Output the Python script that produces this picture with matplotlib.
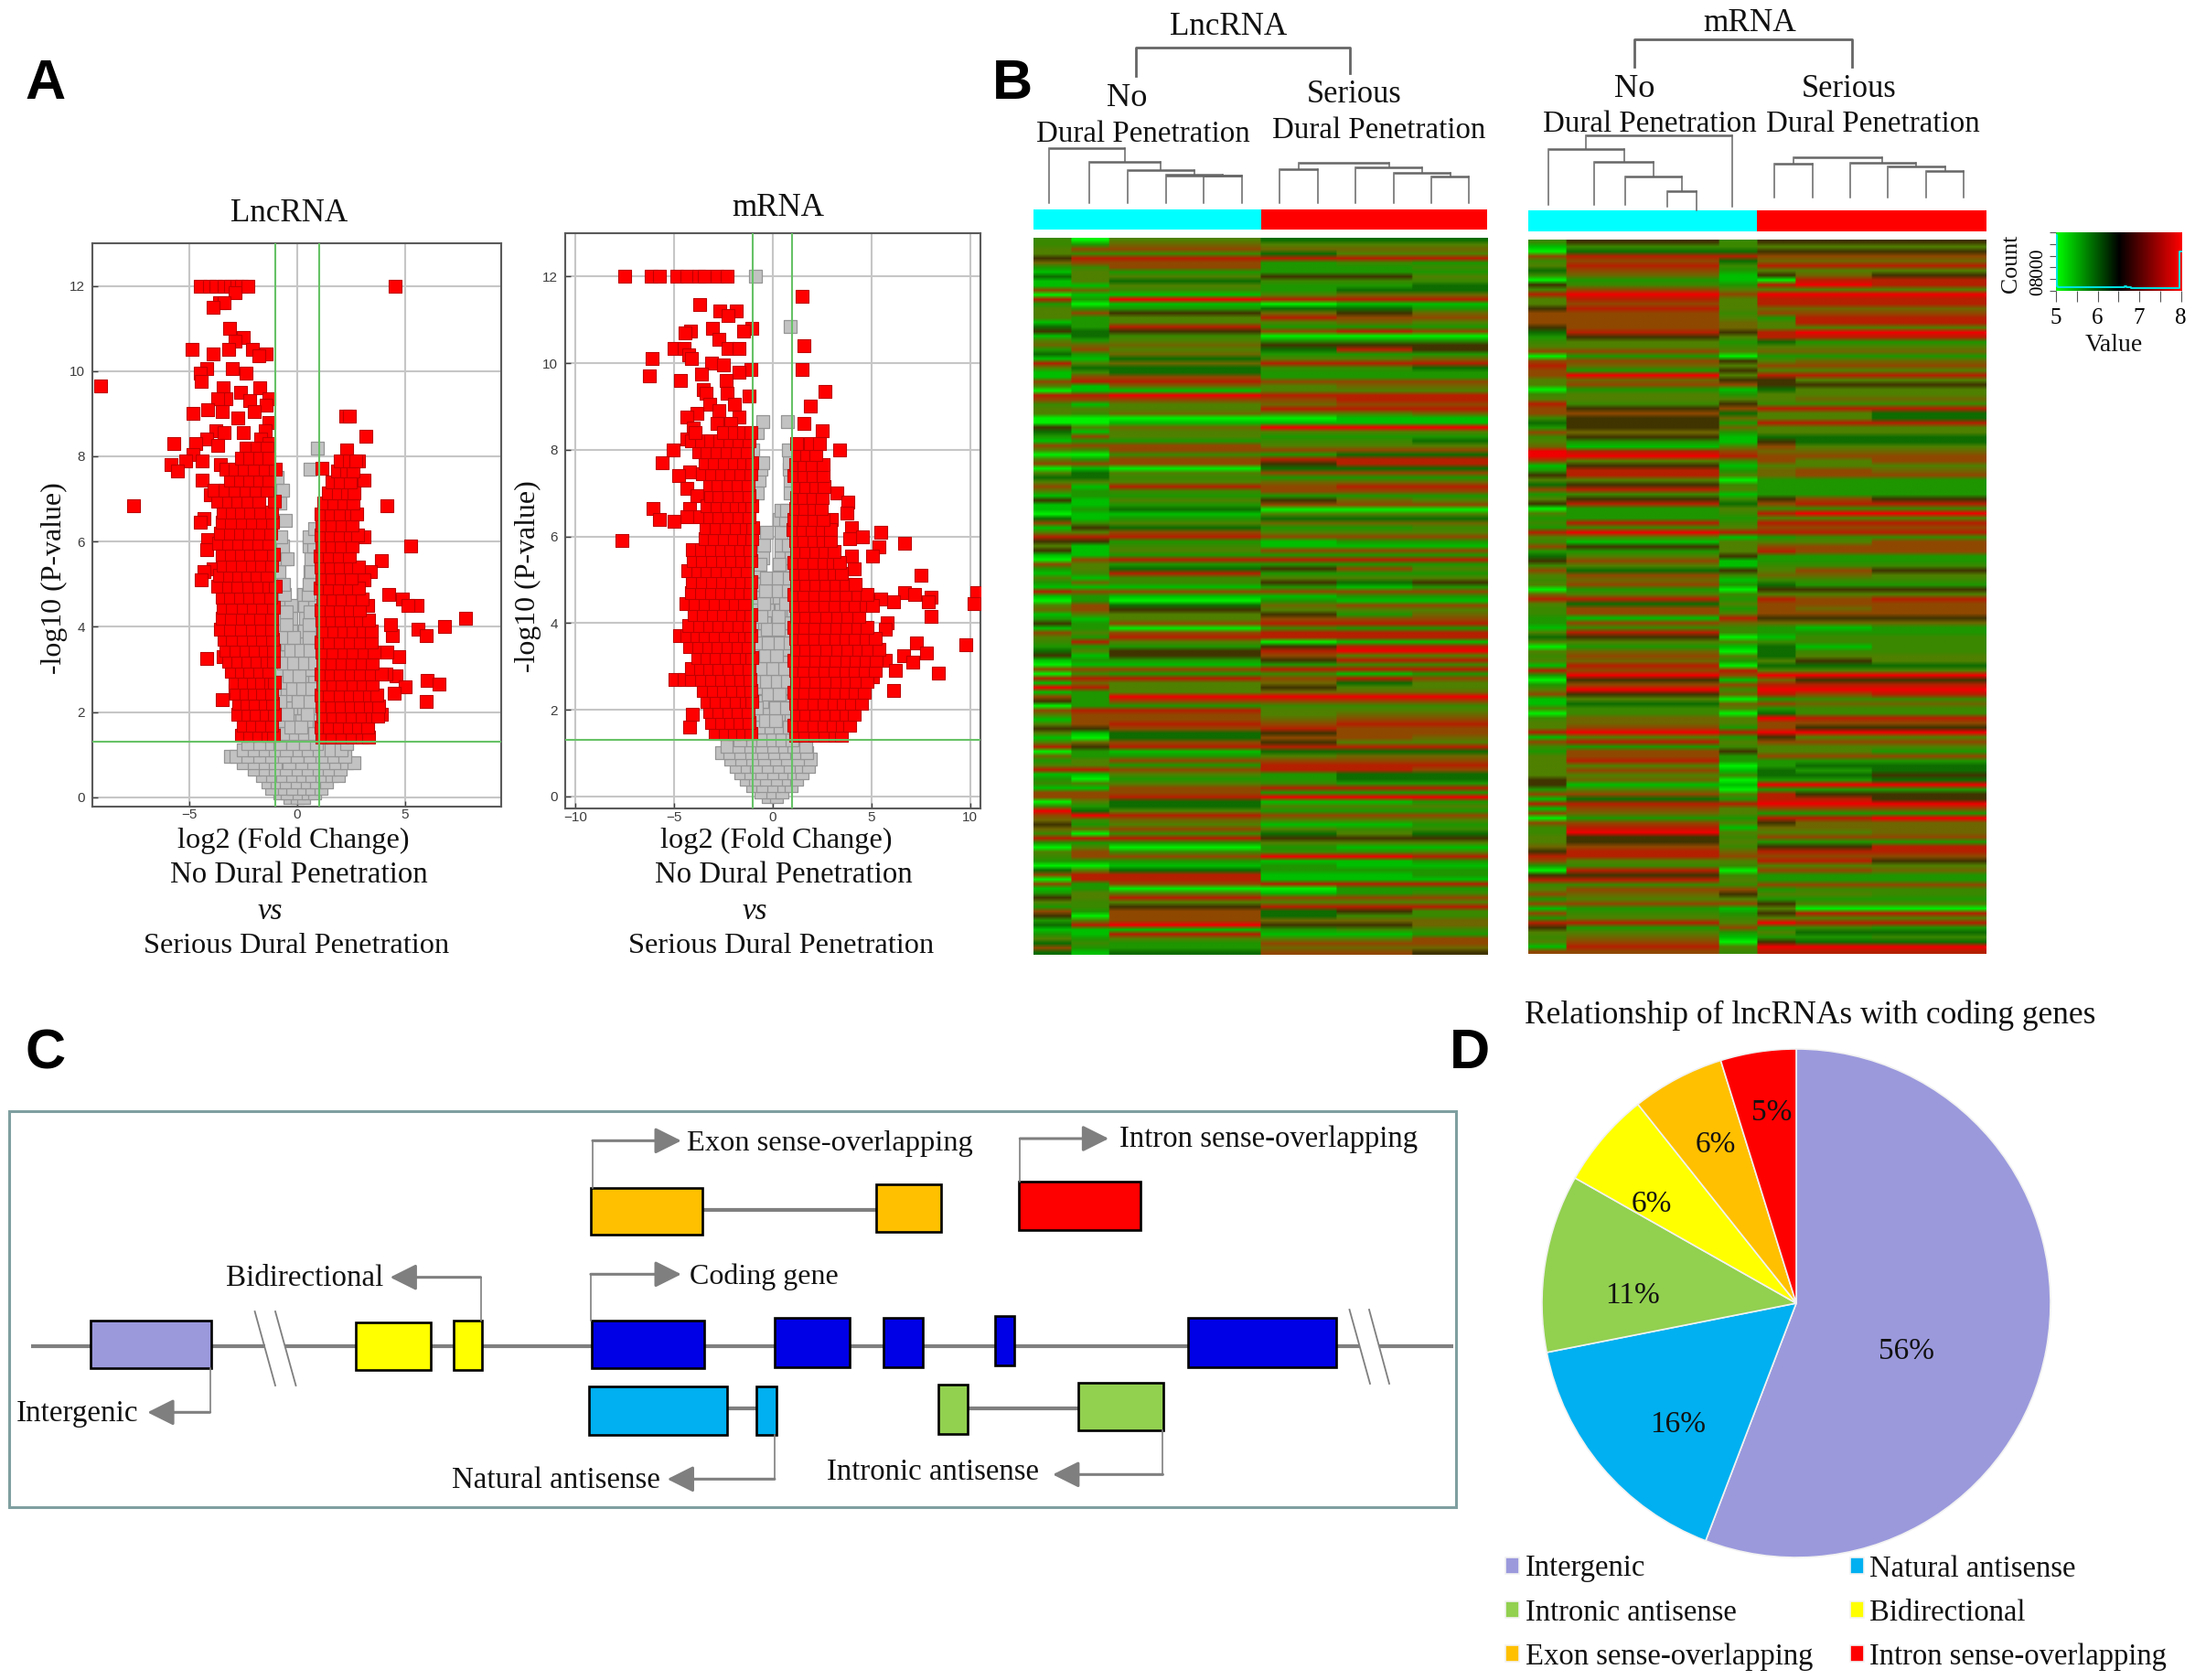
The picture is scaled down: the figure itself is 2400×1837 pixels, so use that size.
import matplotlib
matplotlib.use("Agg")
import numpy as np
import matplotlib.pyplot as plt
from matplotlib.colors import ListedColormap, LinearSegmentedColormap
from matplotlib.font_manager import FontProperties
from matplotlib.patches import Rectangle
from matplotlib.textpath import TextPath

W, H, DPI = 2400, 1837, 100
SERIF = "Liberation Serif"
plt.rcParams["font.family"] = [SERIF, "DejaVu Serif"]

# ---------------- Panel A data: rows of (-log10 p, [log2 fold change ...]) ----------------
lnc_red_rows = [
 (12.0,[-4.5,-4.1,-3.8,-3.4,-3.1,-2.8,-2.6,-2.3,4.53]),(11.85,[-2.9]),(11.6,[-3.6,-3.4]),(11.5,[-3.9]),
 (11.0,[-3.15]),(10.8,[-2.5]),(10.7,[-2.9]),(10.5,[-4.9,-3.2,-2.1]),(10.4,[-3.9,-1.45]),(10.35,[-1.8]),
 (10.05,[-4.2,-3.0]),(9.95,[-4.5,-2.4]),(9.75,[-4.45]),(9.65,[-9.15]),(9.6,[-3.45,-1.75]),(9.5,[-2.65]),
 (9.35,[-3.3,-3.7,-1.3]),(9.3,[-2.2]),(9.2,[-1.45]),(9.1,[-4.15]),(9.05,[-2.0,-3.5]),(9.0,[-4.85]),(8.9,[-2.75]),
 (8.8,[-1.3]),(8.6,[-3.8,-1.5]),(8.55,[-3.4,-2.5]),(8.4,[-4.2,-1.7]),(8.3,[-5.75,-4.7,-1.3]),(8.25,[-3.7]),
 (8.2,[-2.35,-2.4,-1.85,-1.4]),(8.05,[-4.85]),(7.9,[-5.2,-4.4]),(7.8,[-5.85,-3.55]),(7.65,[-5.55]),(7.45,[-4.4]),
 (7.1,[-4.05]),(6.85,[-7.6]),(6.55,[-4.35]),(6.45,[-4.5]),(6.05,[-4.15]),(5.8,[-4.2]),(5.6,[-3.5]),(5.35,[-3.9]),
 (5.3,[-4.35]),(5.1,[-4.45]),(3.3,[-3.45]),(3.25,[-4.2]),(2.5,[-2.9]),(2.3,[-3.5]),
 (1.45,[-2.6,-2.2,-1.8,-1.35,-1.1]),(1.7,[-2.5,-2.1,-1.65,-1.2]),(1.95,[-2.75,-2.3,-1.9,-1.45,-1.05]),
 (2.2,[-2.7,-2.35,-1.95,-1.5,-1.15]),(2.45,[-2.85,-2.4,-2.0,-1.6,-1.2]),(2.7,[-2.9,-2.45,-2.05,-1.65,-1.25,-1.05]),
 (2.95,[-3.05,-2.6,-2.2,-1.75,-1.3]),(3.2,[-3.2,-2.75,-2.3,-1.85,-1.4,-1.1]),(3.45,[-3.3,-2.85,-2.4,-1.95,-1.5,-1.1]),
 (3.7,[-3.4,-3.0,-2.5,-2.05,-1.6,-1.15]),(3.95,[-3.55,-3.1,-2.6,-2.1,-1.65,-1.2]),(4.2,[-3.5,-3.05,-2.55,-2.15,-1.7,-1.2]),
 (4.45,[-3.45,-3.0,-2.5,-2.05,-1.6,-1.1]),(4.7,[-3.5,-3.1,-2.65,-2.2,-1.75,-1.25]),(4.95,[-3.7,-3.2,-2.75,-2.25,-1.8,-1.3,-1.0]),
 (5.2,[-3.6,-3.15,-2.7,-2.3,-1.85,-1.4]),(5.45,[-3.45,-3.0,-2.55,-2.1,-1.65,-1.2]),(5.7,[-3.5,-3.05,-2.6,-2.15,-1.7,-1.1]),
 (5.95,[-3.65,-3.2,-2.7,-2.25,-1.8,-1.3]),(6.2,[-3.55,-3.1,-2.65,-2.2,-1.75,-1.25]),(6.45,[-3.5,-3.05,-2.55,-2.1,-1.6,-1.15]),
 (6.7,[-3.45,-3.0,-2.6,-2.15,-1.7,-1.2]),(6.95,[-3.7,-3.2,-2.75,-2.3,-1.8,-1.05]),(7.2,[-3.85,-3.35,-2.9,-2.4,-1.9,-1.4]),
 (7.45,[-3.1,-2.65,-2.2,-1.75,-1.3]),(7.7,[-3.3,-2.9,-2.45,-2.0,-1.5,-1.0]),(7.95,[-2.6,-2.2,-1.75,-1.3]),
 (8.95,[2.25,2.4]),(8.47,[3.2]),(8.15,[2.3]),(7.9,[2.85]),(7.73,[1.15]),(7.45,[3.1]),(6.85,[4.15]),(6.1,[3.1]),(5.9,[5.25]),
 (5.55,[3.9]),(5.3,[3.4]),(5.1,[3.1]),(4.75,[4.25]),(4.65,[4.9]),(4.5,[5.55,5.15,3.25]),(4.2,[7.8]),(4.0,[6.85]),(3.95,[5.6]),
 (3.8,[6.0,4.4]),(4.05,[4.35]),(3.3,[4.7]),(3.4,[4.15]),(2.85,[4.6]),(2.9,[4.1]),(2.75,[6.05]),(2.65,[6.6]),(2.6,[5.0]),(2.45,[4.5]),
 (2.25,[6.0]),(1.95,[3.9]),
 (1.4,[1.15,1.6,2.1,2.55,3.0,3.3]),(1.65,[1.1,1.5,1.95,2.4,2.85,3.25]),(1.9,[1.2,1.65,2.1,2.55,3.0,3.5,3.75]),
 (2.15,[1.15,1.6,2.05,2.5,2.95,3.4,3.8]),(2.4,[1.1,1.5,2.0,2.45,2.9,3.35,3.7]),(2.65,[1.2,1.65,2.1,2.6,3.05,3.5]),
 (2.9,[1.1,1.55,2.0,2.5,2.95,3.45,3.9]),(3.15,[1.2,1.6,2.1,2.55,3.0,3.5]),(3.4,[1.15,1.65,2.15,2.6,3.1,3.55]),
 (3.65,[1.1,1.5,2.0,2.45,2.95,3.45]),(3.9,[1.2,1.7,2.15,2.6,3.05,3.45]),(4.15,[1.15,1.6,2.05,2.5,2.95,3.3]),
 (4.4,[1.1,1.55,2.0,2.45,2.9]),(4.65,[1.2,1.65,2.1,2.55,3.0]),(4.9,[1.05,1.5,1.95,2.4,2.85]),(5.15,[1.15,1.6,2.05,2.5]),
 (5.4,[1.1,1.55,2.0,2.45,2.85]),(5.65,[1.05,1.5,1.95,2.4]),(5.9,[1.15,1.6,2.05,2.55]),(6.15,[1.1,1.55,2.0,2.45,2.8]),
 (6.4,[1.15,1.6,2.1,2.55]),(6.65,[1.1,1.55,2.0,2.5,2.75]),(6.9,[1.25,1.7,2.15,2.6]),(7.15,[1.45,1.9,2.35,2.65]),
 (7.4,[1.6,2.0,2.45]),(7.65,[1.85,2.3,2.6]),(7.9,[2.0,2.4,2.7]),
]
lnc_grey_rows = [
 (0.0,[-0.35,0.0,0.3]),(0.1,[-0.8,-0.45,0.1,0.5,0.8]),(0.2,[-1.2,-0.6,-0.2,0.3,0.7,1.1]),
 (0.35,[-1.35,-0.95,-0.5,0.0,0.45,0.9,1.35]),(0.5,[-1.6,-1.15,-0.7,-0.2,0.25,0.7,1.15,1.6,1.9]),
 (0.65,[-2.0,-1.5,-1.0,-0.5,0.05,0.5,1.0,1.5,2.0]),(0.8,[-2.5,-2.0,-1.5,-1.0,-0.4,0.2,0.75,1.3,1.8,2.3,2.65]),
 (0.95,[-3.1,-2.85,-2.3,-1.75,-1.2,-0.6,0.0,0.6,1.15,1.7,2.2]),(1.1,[-2.5,-2.0,-1.5,-1.0,-0.5,0.1,0.5,1.0,1.55,2.05]),
 (1.25,[-2.3,-1.75,-1.2,-0.8,-0.2,0.4,0.9,2.3]),(1.5,[-0.95,-0.5,-0.1,0.35,0.8]),(1.8,[-1.1,-0.7,-0.25,0.2,0.7,1.0]),
 (2.1,[-1.1,-0.6,-0.2,0.3,0.85]),(2.4,[-0.95,-0.45,0.05,0.5,0.95]),(2.7,[-1.05,-0.65,-0.15,0.4,0.8]),(3.0,[-0.9,-0.4,0.1,0.6]),
 (3.3,[-1.1,-0.55,-0.1,0.35,0.85]),(3.6,[-0.95,-0.45,0.3,0.95]),(3.9,[-0.8,-0.3,0.35,0.85,1.0]),(4.2,[-0.7,-0.3,0.4,0.9]),
 (4.5,[-0.75,-0.3,0.35,0.8]),(4.75,[-0.6,0.3,0.5]),(5.0,[-1.0,-0.65,0.55]),(5.3,[-0.85,0.6,0.65]),(5.6,[-0.6,-0.45,0.65]),
 (5.9,[-0.7,0.55,0.75]),(6.1,[-0.75,0.55]),(6.3,[0.8]),(6.5,[-0.55]),(6.9,[-0.8]),(7.2,[-0.7]),(7.5,[-0.95]),(7.7,[0.6]),(8.2,[0.95]),
 (1.65,[-0.3,0.15]),(1.95,[-0.45,0.45]),(2.25,[-0.8,0.05,0.6]),(2.55,[-0.2,0.25,0.7]),(2.85,[-0.4,0.1]),(3.15,[-0.65,-0.15,0.35,0.8]),
 (3.45,[-0.3,0.15,0.6]),(3.75,[-0.7,-0.15,0.55]),(4.05,[-0.5,0.55]),(4.35,[-0.5,0.6]),
]
mrna_red_rows = [
 (12.0,[-7.5,-6.15,-5.75,-4.85,-4.35,-3.75,-3.45,-2.8,-2.3]),(11.55,[1.5]),(11.35,[-3.7]),(11.2,[-2.65,-1.85]),(11.1,[-2.25]),
 (10.8,[-3.05,-1.05]),(10.75,[-4.15,-1.45]),(10.7,[-4.45]),(10.55,[-2.7]),(10.4,[1.6]),(10.35,[-2.25,-1.7,-5.0,-4.5]),(10.2,[-4.25]),
 (10.1,[-6.1,-4.1]),(10.0,[-3.1]),(9.95,[-2.5]),(9.85,[1.5,-1.1]),(9.8,[-1.7]),(9.75,[-3.6]),(9.7,[-6.25]),(9.6,[-4.65,-2.35]),
 (9.4,[-3.5]),(9.35,[2.65]),(9.3,[-3.35,-2.3]),(9.25,[-1.2]),(9.05,[-3.2,-1.95]),(9.0,[1.9]),(8.9,[-2.7]),(8.85,[-3.85]),
 (8.75,[-4.35,-1.7]),(8.6,[-2.8,-2.1,1.6]),(8.5,[-4.0]),(8.45,[2.5]),(8.25,[-4.35]),(8.0,[-5.05,3.4]),(7.7,[-5.6]),(7.5,[-4.2]),
 (7.4,[-4.75]),(7.1,[-4.35]),(6.95,[-3.85]),(6.65,[-6.05,-4.2]),(6.45,[-4.35]),(6.4,[-5.75]),(6.35,[-5.0]),(5.9,[-7.65]),
 (1.9,[-4.05]),(1.6,[-4.2]),
 (7.0,[3.25]),(6.8,[3.8]),(6.55,[3.75]),(6.4,[3.0]),(6.2,[4.0]),(6.0,[4.55]),(6.1,[5.5]),(5.95,[3.9]),(5.85,[6.7]),(5.75,[5.4]),
 (5.55,[5.05,4.0]),(5.25,[4.15]),(5.1,[7.5]),(4.7,[6.7,10.35]),(4.65,[7.2]),(4.6,[8.05]),(4.5,[7.9,6.15]),(4.45,[10.2]),(4.55,[5.5]),
 (4.15,[8.05]),(4.0,[5.8]),(3.85,[5.7]),(3.55,[7.3]),(3.5,[9.8]),(3.3,[7.8]),(3.25,[6.65]),(3.1,[7.1]),(3.15,[5.7]),(2.9,[6.2]),
 (2.85,[8.4]),(2.75,[5.05]),(2.45,[6.15]),
 (1.45,[-2.9,-2.4,-1.95,-1.5,-1.1]),(1.7,[-3.1,-2.6,-2.1,-1.65,-1.2]),(1.95,[-3.2,-2.7,-2.2,-1.75,-1.25]),
 (2.2,[-3.3,-2.85,-2.35,-1.85,-1.35,-1.05]),(2.45,[-3.5,-3.0,-2.5,-2.0,-1.5,-1.1]),(2.7,[-4.95,-4.5,-4.1,-3.6,-3.1,-2.6,-2.1,-1.6,-1.15]),
 (2.95,[-4.1,-3.65,-3.2,-2.7,-2.2,-1.7,-1.2]),(3.2,[-3.8,-3.3,-2.85,-2.35,-1.85,-1.35,-1.05]),(3.45,[-4.2,-3.75,-3.25,-2.75,-2.25,-1.75,-1.25]),
 (3.7,[-4.7,-4.35,-3.85,-3.4,-2.9,-2.4,-1.9,-1.4,-1.1]),(3.95,[-4.25,-3.7,-3.2,-2.7,-2.2,-1.7,-1.2]),(4.2,[-3.95,-3.5,-3.0,-2.5,-2.0,-1.5,-1.1]),
 (4.45,[-4.4,-3.9,-3.4,-2.9,-2.4,-1.9,-1.4]),(4.7,[-4.1,-3.6,-3.1,-2.6,-2.1,-1.6,-1.15]),(4.95,[-4.05,-3.55,-3.05,-2.55,-2.05,-1.55,-1.1]),
 (5.2,[-4.3,-3.8,-3.3,-2.8,-2.3,-1.8,-1.3]),(5.45,[-4.0,-3.55,-3.05,-2.55,-2.05,-1.55,-1.1]),(5.7,[-4.05,-3.6,-3.1,-2.6,-2.1,-1.6,-1.15]),
 (5.95,[-3.4,-2.95,-2.45,-1.95,-1.45,-1.05]),(6.2,[-3.35,-2.85,-2.35,-1.85,-1.35,-1.0]),(6.45,[-3.7,-3.2,-2.7,-2.2,-1.7,-1.2]),
 (6.7,[-3.3,-2.8,-2.3,-1.85,-1.4,-1.05]),(6.95,[-3.15,-2.7,-2.2,-1.7,-1.2]),(7.2,[-3.2,-2.75,-2.25,-1.75,-1.25]),
 (7.45,[-3.55,-3.1,-2.6,-2.1,-1.6,-1.1]),(7.7,[-3.4,-2.95,-2.45,-1.95,-1.45,-1.05]),(7.95,[-3.75,-3.3,-2.8,-2.3,-1.8,-1.3]),
 (8.2,[-4.1,-3.6,-3.15,-2.65,-2.15,-1.7,-1.2]),(8.4,[-3.9,-2.5,-1.95,-1.45,-1.1]),
 (1.4,[1.15,1.65,2.15,2.65,3.15,3.5]),(1.65,[1.1,1.6,2.1,2.6,3.05,3.55,3.9]),(1.9,[1.2,1.7,2.2,2.7,3.2,3.7,4.15]),
 (2.15,[1.15,1.6,2.1,2.6,3.1,3.6,4.0,4.5]),(2.4,[1.1,1.65,2.15,2.7,3.2,3.7,4.2,4.65]),(2.65,[1.2,1.7,2.2,2.7,3.25,3.75,4.25,4.8]),
 (2.9,[1.15,1.6,2.15,2.65,3.15,3.7,4.2,4.7,5.2]),(3.15,[1.1,1.65,2.2,2.7,3.2,3.75,4.25,4.75,5.25]),(3.4,[1.2,1.7,2.2,2.75,3.3,3.8,4.35,4.85,5.4]),
 (3.65,[1.15,1.6,2.15,2.65,3.2,3.7,4.2,4.75,5.2]),(3.9,[1.1,1.65,2.15,2.7,3.25,3.75,4.3,4.8]),(4.15,[1.2,1.7,2.2,2.75,3.3,3.8,4.35]),
 (4.4,[1.15,1.65,2.15,2.65,3.15,3.7,4.2,4.75,5.05]),(4.65,[1.1,1.6,2.15,2.65,3.2,3.7,4.3,4.8]),(4.9,[1.2,1.7,2.2,2.7,3.2,3.7,4.2]),
 (5.15,[1.15,1.65,2.15,2.65,3.1,3.5]),(5.4,[1.1,1.6,2.1,2.6,3.05,3.4]),(5.65,[1.2,1.7,2.2,2.65,3.1]),(5.9,[1.15,1.6,2.1,2.55,2.95]),
 (6.15,[1.05,1.55,2.0,2.5,2.95]),(6.4,[1.1,1.6,2.1,2.55]),(6.65,[1.15,1.65,2.1,2.45]),(6.9,[1.2,1.6,2.05,2.5]),(7.15,[1.25,1.7,2.2,2.6]),
 (7.4,[1.1,1.6,2.05,2.55]),(7.65,[1.15,1.6,2.0,2.55]),(7.9,[1.3,1.75,2.2]),(8.15,[1.2,1.9,2.4]),
]
mrna_grey_rows = [
 (0.0,[-0.2,0.2]),(0.1,[-0.6,0.0,0.5]),(0.25,[-1.0,-0.5,0.05,0.55,0.95]),(0.4,[-1.35,-0.85,-0.3,0.25,0.8,1.2]),
 (0.55,[-1.6,-1.1,-0.55,0.05,0.6,1.1,1.5]),(0.7,[-1.85,-1.3,-0.8,-0.2,0.35,0.9,1.45,1.8]),(0.85,[-2.1,-1.55,-1.0,-0.4,0.2,0.75,1.3,1.9]),
 (1.0,[-2.6,-2.15,-1.6,-1.05,-0.45,0.1,0.65,1.2,1.75]),(1.15,[-2.3,-1.7,-1.1,-0.55,0.05,0.6,1.1,1.7]),(1.3,[-1.65,-1.0,-0.5,0.0,0.5,1.0]),
 (1.6,[-1.0,-0.55,-0.1,0.4,0.85]),(1.9,[-1.1,-0.6,-0.15,0.35,0.95]),(2.2,[-0.9,-0.4,0.1,0.6,1.0]),(2.5,[-1.1,-0.55,0.0,0.5,0.95]),
 (2.8,[-0.8,-0.3,0.3,1.05]),(3.1,[-1.05,-0.6,-0.1,0.45,0.8]),(3.4,[-0.9,-0.4,0.1,0.7]),(3.7,[-1.1,-0.5,-0.05,0.55]),(4.0,[-0.9,-0.4,0.55,0.85]),
 (4.3,[-0.8,-0.25,0.45,1.05]),(4.6,[-0.7,-0.25,0.35,0.85]),(4.9,[-1.0,-0.55,-0.1,0.5]),(5.2,[-0.9,0.5,0.7]),(5.5,[-0.5,0.45,0.95]),
 (5.8,[-0.45,0.45,0.8]),(6.1,[-0.3,0.45]),(6.4,[0.35,0.65]),(6.6,[0.45,0.7]),(7.0,[-0.75,0.9]),(7.3,[-0.7,0.9]),(7.55,[-0.6,0.85]),
 (7.7,[-0.5,0.85]),(8.0,[-1.0,0.8]),(8.4,[-0.75]),(8.65,[-0.5,0.75]),(10.85,[0.9]),(12.0,[-0.87]),
 (1.75,[-0.35,0.15]),(2.05,[-0.8,0.15,0.7]),(2.35,[-0.2,0.35]),(2.65,[-0.85,-0.3,0.25,0.75]),(2.95,[-0.55,0.0,0.6]),(3.25,[-0.35,0.2]),
 (3.55,[-0.7,-0.2,0.4,0.9]),(3.85,[-0.25,0.3]),(4.15,[-0.6,0.3]),(4.45,[-0.45,0.65]),(4.75,[-0.35,0.3,0.8]),(5.05,[-0.3,0.3,0.85]),(5.35,[-0.65,0.35]),
]
pvalue_cut = 1.3
fold_cut = 1.0

# ---------------- Panel B data: heat levels by row, one character per column group ----------------
# 0 bright green ... 5 olive ... 9 bright red, a near black
lnc_groups = [0, 1, 2, 2, 2, 2, 3, 3, 4, 4, 5, 5]
lnc_levels = """
305444 326555 577666 533455 a88888 677232 237223 152222 455aa5 154333
115224 763244 011566 829888 201011 522442 57a6a6 525877 125565 428222
a4a787 143000 525222 666aaa 27548a 426222 114556 856888 544334 134222
177222 788777 516566 011555 889888 777788 315677 555888 536556 000011
001111 a56999 415555 275222 122334 777555 537777 003244 527888 777a88
010444 545777 443222 555666 718788 523777 122222 a15a65 112777 124000
011555 412444 735666 1a4223 557555 888777 aa2122 513111 a15777 112222
078888 752222 254a75 138222 513555 263a4a 111212 877777
121122 020211 574677 67a555 155a26 215777 a27888 120322 757888 528888
385011 222a88 45a899 a1a755 122a88 011233 777888 032312 888787 165645
985a55 125666 729999 a27777 022333 788555 577566 177677 578788 aa7877
514a77 104776 567a55 8a8888 021444 622566 257777 552888 887887 115244
202244 355322 117888 777222 778999 054112 324555 945222 798777 636555
a25112 667533 303454 888aaa 222555 050211 573335 377998 222112 001211
454222 788112 088111 727888 120022 255123 a58777 535555 23a888 7274a3
a07433 257666 489aa6 111233 218112 525557 432777 722666 41477a
""".split()
mrna_groups = [0, 1, 1, 1, 1, 2, 3, 4, 4, 5, 5, 5]
mrna_levels = """
3a3aaa 133555 044aaa 788777 374666 583888 472555 361a6a 021088 a32898
375555 897999 585888 575888 a85666 773777 775288 776588 a76555 48a899
2a5888 352422 553555 775666 020222 77a566 865777 72a555 795888 56aa55
577aaa 021455 352555 555566 83a333 7a7888 774554 3a6554 4a2888 2a6555
762555 3a1444 521a44 615755 987666 998777 753757 1a1555 282676 a85677
550222 4a3222 785222 231222 5a3a7a a84788 025333 523899 222555 383888
235777 898888 551233 315557 7a5777 225877 45a222 a71222 351333 74a57a
573665 361333 572422 020aaa 653555 882878 545777 372767
375777 218aaa 276666 133212 583222 4a0133 555333 021413 560433 375455
5625a5 180444 878555 297999 0a16aa 277888 593999 7a6878 150233 146766
535233 030433 365988 565777 5727aa 898999 152a55 785777 323555 27a552
572777 582222 550244 571424 55344a a60224 a11999 250222 7758aa 14288a
888999 175777 765222 022889 775a66 381666 395556 5a3777 5a5222 673aa8
a86888 887777 75588a 233555 080776 aa3222 885222 333777 577233 76a553
255222 777a55 121500 732a88 253555 885988 a27232 552544 361223 570a44
185999 773888
""".split()
level_colors = ["#00F000", "#00BE00", "#1E9600", "#3A8800", "#0E6C00", "#4F8000",
                "#6E6600", "#8F4800", "#B42000", "#F00000", "#403400"]

key_values = [5, 6, 7, 8]
key_hist_x = [5.0, 5.02, 5.05, 6.5, 6.6, 6.65, 6.7, 6.8, 6.9, 7.95, 7.96, 8.0]
key_hist_y = [19000, 1500, 1300, 1100, 1200, 1500, 1200, 900, 800, 800, 13500, 13500]

# ---------------- Panel D data ----------------
pie_labels = ["Intergenic", "Natural antisense", "Intronic antisense", "Bidirectional",
              "Exon sense-overlapping", "Intron sense-overlapping"]
pie_values = [55.8, 16.1, 11.3, 6.1, 5.9, 4.8]
pie_percent = ["56%", "16%", "11%", "6%", "6%", "5%"]
pie_colors = ["#9B99DC", "#00B0F0", "#92D050", "#FFFF00", "#FFC000", "#FF0000"]

fig = plt.figure(figsize=(W / DPI, H / DPI), dpi=DPI, facecolor="white")


def axes_px(x0, y0, x1, y1, **kw):
    return fig.add_axes([x0 / W, 1 - y1 / H, (x1 - x0) / W, (y1 - y0) / H], **kw)


ov = fig.add_axes([0, 0, 1, 1], zorder=5)
ov.set_xlim(0, W)
ov.set_ylim(H, 0)
ov.axis("off")
ov.patch.set_alpha(0)


def fit(x, y, s, width, rotation=0, style="normal", color="#111111"):
    fp = FontProperties(family=SERIF, style=style)
    w = TextPath((0, 0), s, size=100, prop=fp).get_extents().width
    fs = width * 72 / DPI * 100 / w
    ov.text(x, y + 2, s, ha="center", va="center", rotation=rotation, fontsize=fs,
            family=SERIF, style=style, color=color)


def flatten(rows):
    xs, ys = [], []
    for y, row in rows:
        for x in row:
            xs.append(x)
            ys.append(y)
    return np.array(xs), np.array(ys)


def volcano(box, xlim, ylim, xticks, red_rows, grey_rows):
    ax = axes_px(*box)
    ax.set_xlim(*xlim)
    ax.set_ylim(*ylim)
    ax.set_xticks(xticks)
    ax.set_yticks([0, 2, 4, 6, 8, 10, 12])
    ax.grid(True, color="#C6C6C6", lw=1.5)
    ax.set_axisbelow(True)
    ax.tick_params(labelsize=11, colors="#3C3C3C", length=4, direction="in", width=1, pad=6)
    ax.tick_params(axis="x", pad=2)
    for lab in ax.get_xticklabels() + ax.get_yticklabels():
        lab.set_family("Liberation Sans")
    for sp in ax.spines.values():
        sp.set_color("#5A5A5A")
        sp.set_linewidth(1.5)
    gx, gy = flatten(grey_rows)
    ax.scatter(gx, gy, marker="s", s=105, facecolor="#C2C2C2", edgecolor="#959595", lw=0.9, zorder=2)
    rx, ry = flatten(red_rows)
    ax.scatter(rx, ry, marker="s", s=105, facecolor="#FF0000", edgecolor="#C00000", lw=0.8, zorder=3)
    ax.axhline(pvalue_cut, color="#66C266", lw=1.5, zorder=4)
    ax.axvline(-fold_cut, color="#66C266", lw=1.5, zorder=4)
    ax.axvline(fold_cut, color="#66C266", lw=1.5, zorder=4)
    return ax


volcano((101.4, 266, 548.4, 881.5), (-9.5, 9.49), (-0.21, 13.0), [-5, 0, 5], lnc_red_rows, lnc_grey_rows)
volcano((618, 255, 1072, 884), (-10.5, 10.53), (-0.28, 13.0), [-10, -5, 0, 5, 10], mrna_red_rows, mrna_grey_rows)

for ttl_x, ttl_y, ttl, ttl_w, yl_x, yl_y, lx, no_x, vs_x, se_x in [
    (316, 232, "LncRNA", 127, 59, 630, 320.7, 327, 295, 324.5),
    (851, 226, "mRNA", 100, 577.5, 628, 849, 857, 825, 854)]:
    fit(ttl_x, ttl_y, ttl, ttl_w)
    fit(yl_x, yl_y, "-log10 (P-value)", 207, rotation=90)
    fit(lx, 917, "log2 (Fold Change)", 252)
    fit(no_x, 955, "No Dural Penetration", 280)
    fit(vs_x, 995, "vs", 26, style="italic")
    fit(se_x, 1033, "Serious Dural Penetration", 332)

for s, x, y in [("A", 50, 93), ("B", 1107, 93), ("C", 50, 1153), ("D", 1607, 1153)]:
    ov.text(x, y, s, ha="center", va="center", fontsize=44, fontweight="bold",
            family="Liberation Sans", color="black")

# Panel B
heat_cmap = ListedColormap(level_colors)
BX = lambda x: 1100 + (x - 1100) * 0.995


def heatmap(box, levels, groups):
    grid = np.array([[int(r[g], 16) for g in groups] for r in levels])
    # repeat columns so the soft blending acts only between rows, as in the blurred reference
    grid = np.repeat(grid, 24, axis=1)
    ax = axes_px(*box)
    ax.imshow(grid, cmap=heat_cmap, vmin=0, vmax=10, aspect="auto", interpolation="bilinear",
              interpolation_stage="rgba")
    ax.axis("off")


heatmap((1130, 260, 1626.7, 1044), lnc_levels, lnc_groups)
heatmap((1671, 261.7, 2172, 1042.7), mrna_levels, mrna_groups)

for (x0, split, x1, y0, y1) in [(1130, 1380, 1629, 228.7, 250.7), (1674, 1925, 2177.5, 230, 252.7)]:
    ov.add_patch(Rectangle((BX(x0), y0), BX(split) - BX(x0), y1 - y0, fc="#00FFFF", ec="none"))
    ov.add_patch(Rectangle((BX(split), y0), BX(x1) - BX(split), y1 - y0, fc="#FF0000", ec="none"))

DG = "#666666"
ov.plot([BX(v) for v in [1243, 1243, 1477.5, 1477.5]], [83, 52, 52, 80], color=DG, lw=2)
ov.plot([BX(v) for v in [1790, 1790, 2030, 2030]], [73, 43, 43, 73], color=DG, lw=2)

merges = [
    (1275.8,1359,192),(1317,1359,192),(1275.8,1338,191),(1233.3,1307,186),(1191.7,1270,176.7),(1147.5,1231,162),
    (1400.8,1442.5,185),(1567.5,1609,193),(1525.8,1588,188.7),(1484,1557,183),(1421.7,1521,178),
    (1826.7,1859,209.3),(1780.8,1843,193),(1745.8,1812,177),(1696,1779,163),(1737.5,1898,148),
    (1944,1986,179),(2111,2152.5,187),(2069,2132,182),(2027.5,2100,177.7),(1965,2063,171.7),
]
for a, b, h in merges:
    ov.plot([BX(a), BX(b)], [h, h], color=DG, lw=1.8, solid_capstyle="butt")
drops = [(1147.5,162,221.7),(1191.7,176.7,221.7),(1233.3,186,221.7),(1275.8,191,221.7),(1317.5,192,221.7),(1359,192,221.7),
         (1231,162,176.7),(1270,176.7,186),(1307,186,191),(1338,191,192),
         (1400.8,185,221.7),(1442.5,185,221.7),(1484,183,221.7),(1525.8,188.7,221.7),(1567.5,193,221.7),(1609,193,221.7),
         (1421.7,178,185),(1521,178,183),(1557,183,188.7),(1588,188.7,193),
         (1696,163,224),(1745.8,177,224),(1780.8,193,224),(1826.7,209.3,226),(1859,209.3,230),(1898,148,226),
         (1779,163,177),(1737.5,148,163),(1812,177,193),(1843,193,209.3),
         (1944,179,216),(1986,179,216),(2027.5,177.7,216),(2069,182,216),(2111,187,216),(2152.5,187,216),
         (1965,171.7,179),(2063,171.7,177.7),(2100,177.7,182),(2132,182,187)]
for x, top, bot in drops:
    ov.plot([BX(x), BX(x)], [top, bot], color=DG, lw=1.1)

fit(BX(1344), 28, "LncRNA", 127)
fit(BX(1917.5), 23, "mRNA", 101)
fit(BX(1233), 105, "No", 42)
fit(BX(1483), 101.6, "Serious", 100)
fit(BX(1251), 145, "Dural Penetration", 232)
fit(BX(1510), 141, "Dural Penetration", 231)
fit(BX(1791), 95, "No", 42)
fit(BX(2026), 95, "Serious", 100)
fit(BX(1807.5), 134, "Dural Penetration", 232)
fit(BX(2052.5), 134, "Dural Penetration", 232)

# colour key
key = axes_px(2248, 254, 2386, 318)
key_cmap = LinearSegmentedColormap.from_list("key", ["#00FF00", "#000000", "#FF0000"])
key.imshow(np.linspace(0, 1, 200).reshape(1, -1), cmap=key_cmap, extent=(5, 8.03, 0, 20000), aspect="auto")
key.plot(key_hist_x, key_hist_y, color="#00E5E5", lw=1.4, drawstyle="steps-post")
key.set_xlim(5, 8.03)
key.set_ylim(0, 20000)
key.set_xticks(key_values)
key.set_xticks([5.5, 6.5, 7.5], minor=True)
key.set_xticklabels([str(v) for v in key_values], fontsize=18, family=SERIF)
key.set_yticks([0, 4000, 8000, 12000, 16000, 20000])
key.set_yticklabels(["0", "", "8000", "", "", ""], rotation=90, va="center", fontsize=15, family=SERIF)
key.tick_params(axis="x", which="both", length=8.5, width=0.8, pad=5, color="#555555")
key.tick_params(axis="y", length=5, width=0.8, pad=2, color="#555555")
for sp in key.spines.values():
    sp.set_visible(False)
fit(2311, 376, "Value", 62)
fit(2199, 286, "Count", 62, rotation=90)

# Panel C: schematic, positions from the drawing
FX = lambda z: z / 0.98
FY = lambda z: 1200 + z / 3
ov.add_patch(Rectangle((10, 1214.7), 1582, 433.3, fc="none", ec="#7F9FA0", lw=2.2))
LINE = "#7F7F7F"
for a, b in [(34, 290), (311, 1487), (1508, 1589)]:
    ov.plot([a, b], [1472, 1472], color=LINE, lw=3, solid_capstyle="butt", zorder=1)
for a, b in [(278.6, 301), (301, 323.5)]:
    ov.plot([a, b], [1434, 1515], color=LINE, lw=1.3)
for a, b in [(1475.5, 1498), (1497, 1519)]:
    ov.plot([a, b], [1432, 1513], color=LINE, lw=1.3)
for a, b, y in [(753, 939, 368), (779, 810, 1020), (1037, 1155, 1020)]:
    ov.plot([FX(a), FX(b)], [FY(y), FY(y)], color=LINE, lw=3, solid_capstyle="butt", zorder=1)

gene_boxes = [
    (97, 226, 733, 887, "#9B99DC"), (381, 462, 738, 893, "#FFFF00"), (486, 516, 733, 893, "#FFFF00"),
    (634, 755, 733, 888, "#0000E6"), (830, 910, 722, 884, "#0000E6"), (947, 989, 722, 884, "#0000E6"),
    (1066, 1087, 717, 879, "#0000E6"), (1273, 1432, 722, 884, "#0000E6"),
    (633, 753, 296, 451, "#FFC000"), (939, 1008, 285, 440, "#FFC000"), (1092, 1222, 275, 436, "#FF0000"),
    (631, 779, 948, 1108, "#00B0F0"), (810, 832, 948, 1108, "#00B0F0"),
    (1005, 1037, 942, 1103, "#92D050"), (1155, 1247, 937, 1092, "#92D050"),
]
for x0, x1, y0, y1, c in gene_boxes:
    ov.add_patch(Rectangle((FX(x0), FY(y0)), FX(x1) - FX(x0), FY(y1) - FY(y0), fc=c, ec="black", lw=1.9, zorder=2))

elbows = [
    (635, 296, 142, 730, "Exon sense-overlapping", 737, 1042, 148),
    (1093, 275, 135, 1188, "Intron sense-overlapping", 1200, 1518, 135),
    (633, 733, 580, 730, "Coding gene", 740, 897, 585),
    (515, 733, 590, 418, "Bidirectional", 243, 410, 590),
    (225, 887, 1033, 158, "Intergenic", 18, 147, 1033),
    (830, 1108, 1252, 715, "Natural antisense", 485, 706, 1252),
    (1246, 1092, 1237, 1128, "Intronic antisense", 887, 1112, 1227),
]
for x, y0, y1, xe, s, t0, t1, ty in elbows:
    ov.plot([FX(x), FX(x)], [FY(y0), FY(y1)], color=LINE, lw=1.2)
    ov.annotate("", xy=(FX(xe), FY(y1)), xytext=(FX(x), FY(y1)),
                arrowprops=dict(arrowstyle="-|>,head_length=0.8,head_width=0.4", color=LINE, lw=2.2,
                                mutation_scale=22, shrinkA=0, shrinkB=0))
    fit((FX(t0) + FX(t1)) / 2, FY(ty) - 1, s, FX(t1) - FX(t0))

# Panel D
cx, cy, r, m = 1964, 1425, 278, 290
pie_ax = axes_px(cx - m, cy - m, cx + m, cy + m)
wedges, _ = pie_ax.pie(pie_values, colors=pie_colors, startangle=90, counterclock=False, radius=1,
                       wedgeprops=dict(edgecolor="#F2F2F2", linewidth=1.2))
pie_ax.set_xlim(-m / r, m / r)
pie_ax.set_ylim(-m / r, m / r)
for s, x, y in zip(pie_percent, [2085, 1835, 1785, 1806, 1875.5, 1937], [1478, 1558, 1417, 1317, 1252, 1217]):
    ov.text(x, y, s, ha="center", va="center", fontsize=24, family=SERIF, color="#111111")
fit(1979, 1108, "Relationship of lncRNAs with coding genes", 622)
order = [0, 2, 4, 1, 3, 5]
leg = ov.legend([wedges[i] for i in order], [pie_labels[i] for i in order], ncol=2, frameon=False,
                loc="upper left", bbox_to_anchor=(1646 / W, 1 - 1700 / H), bbox_transform=fig.transFigure,
                fontsize=23.5, handlelength=0.46, handleheight=0.46, handletextpad=0.2, labelspacing=0.54,
                columnspacing=1.25, borderpad=0, borderaxespad=0)
for t in leg.get_texts():
    t.set_color("#111111")

fig.savefig("out.png", dpi=DPI, facecolor="white")
